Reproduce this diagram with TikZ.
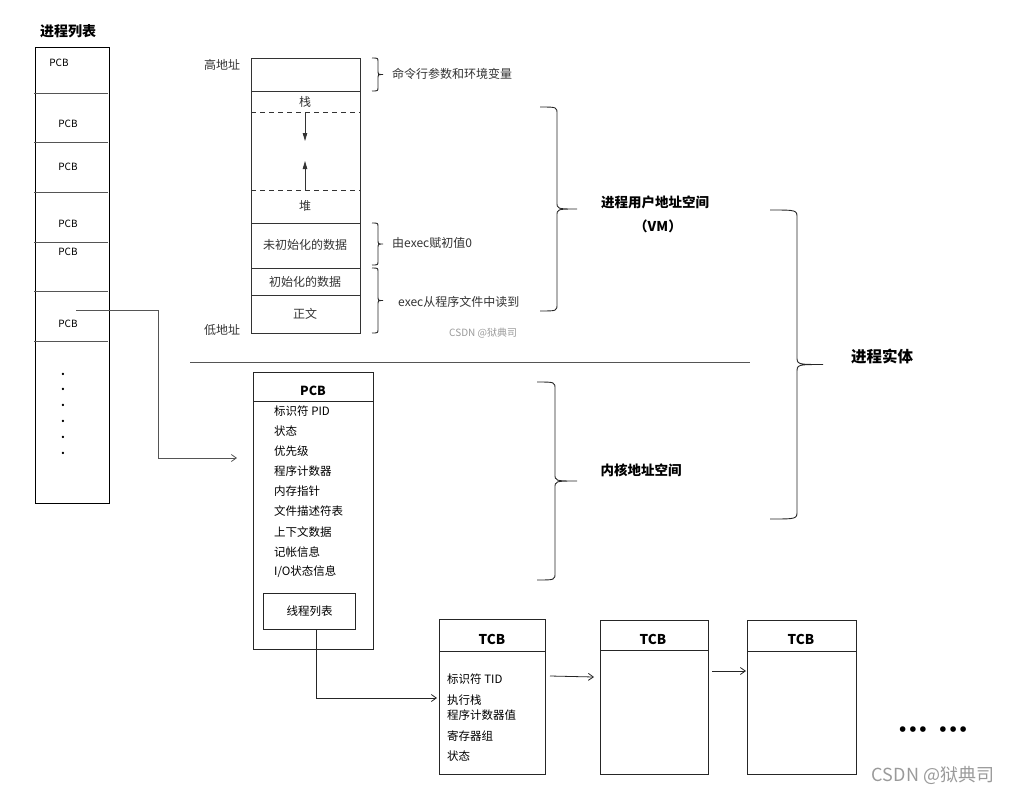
\documentclass[tikz,border=0pt]{standalone}
\usepackage{fontspec}
\setmainfont{Noto Sans CJK SC}
\newfontfamily\dejavu{DejaVu Sans}
\usetikzlibrary{arrows.meta}
\definecolor{memln}{HTML}{333333}
\definecolor{sepln}{HTML}{555555}
\definecolor{wm}{HTML}{9A9A9A}
% brace pointing right: #1 x of ends, #2 x of spine, #3 x of tip, #4 y top, #5 y bottom, #6 radius
\newcommand\mybrc[6]{%
  \pgfmathsetmacro\bym{(#4+#5)/2}%
  \draw[brc] (#1,#4) .. controls (#2,#4) and (#2,#4) .. (#2,#4+#6)
    -- (#2,\bym-#6) .. controls (#2,\bym) and (#2,\bym) .. (#3,\bym)
    .. controls (#2,\bym) and (#2,\bym) .. (#2,\bym+#6)
    -- (#2,#5-#6) .. controls (#2,#5) and (#2,#5) .. (#1,#5);}
\begin{document}
\begin{tikzpicture}[x=1pt,y=-1pt,
  txt/.style={inner sep=0pt},
  small/.style={txt, font=\fontsize{10}{12}\selectfont},
  item/.style={txt, anchor=west, font=\fontsize{11.5}{13}\selectfont},
  ttl/.style={txt, font=\fontsize{13.5}{15}\selectfont\bfseries},
  memtxt/.style={txt, text=memln, font=\fontsize{12}{14}\selectfont},
  box/.style={draw=black!85, line width=1pt, inner sep=0pt, anchor=north west},
  membox/.style={draw=memln, line width=0.9pt, inner sep=0pt, anchor=north west},
  arr/.style={-{Straight Barb[length=5pt,width=7pt]}, line width=0.8pt},
  tri/.style={-{Triangle[length=8pt,width=4.5pt]}, line width=0.8pt, memln},
  brc/.style={line width=0.9pt, black!85},
  mbrc/.style={line width=0.8pt, memln}]
\useasboundingbox (0,0) rectangle (1013,793);

% ---------- process list ----------
\node[ttl, font=\fontsize{14}{16}\selectfont\bfseries] (ltitle) at (68,31) {进程列表};
\node[draw=black, line width=0.9pt, inner sep=0pt, anchor=north west,
      minimum width=74pt, minimum height=456pt] (plist) at (35,47) {};
\foreach \yy in {93,142,192,242,291,341}
  \draw[sepln, line width=1pt] (34,\yy) -- (108,\yy);
\node[small] (p1) at (59,63) {PCB};
\node[small] (p2) at (68,124) {PCB};
\node[small] (p3) at (68,167) {PCB};
\node[small] (p4) at (68,224) {PCB};
\node[small] (p5) at (68,252) {PCB};
\node[small] (p6) at (68,324) {PCB};
\foreach \yy in {377,392,408,424,440,456}
  \node[txt, font=\fontsize{11}{12}\selectfont\bfseries] at (63,\yy-3) {.};

% connector list -> PCB
\coordinate (ls) at (76,310);
\coordinate (le) at (237,458);
\draw[arr, sepln] (ls) -- ++(82,0) |- (le);

% ---------- memory layout ----------
\node[membox, minimum width=109pt, minimum height=275pt] (mem) at (251,58) {};
\draw[memln, line width=0.9pt] (251,91) -- (360,91);
\draw[memln, line width=0.9pt, dash pattern=on 5pt off 4pt] (251,112) -- (360,112);
\draw[memln, line width=0.9pt, dash pattern=on 5pt off 4pt] (251,190) -- (360,190);
\draw[memln, line width=0.9pt] (251,223) -- (360,223);
\draw[memln, line width=0.9pt] (251,268) -- (360,268);
\draw[memln, line width=0.9pt] (251,295) -- (360,295);
\coordinate (sa) at (305,113);
\coordinate (sb) at (305,141);
\coordinate (ha) at (305,190);
\coordinate (hb) at (305,161);
\draw[tri] (sa) -- (sb);
\draw[tri] (ha) -- (hb);

\node[memtxt] (hi) at (222,65) {高地址};
\node[memtxt] (lo) at (222,330) {低地址};
\node[memtxt] (stk) at (305,102) {栈};
\node[memtxt] (heap) at (305,206) {堆};
\node[memtxt] (bss) at (305,245) {未初始化的数据};
\node[memtxt] (data) at (305,282) {初始化的数据};
\node[memtxt] (text) at (305,314) {正文};

\mybrc{372}{378}{383}{58}{91}{4}
\mybrc{372}{378}{383}{223}{265}{4}
\mybrc{372}{378}{383}{268}{333}{4}
\node[memtxt, anchor=west] (cmd) at (392,74) {命令行参数和环境变量};
\node[memtxt, anchor=west] (bz) at (392,243) {由exec赋初值0};
\node[memtxt, anchor=west] (rd) at (398,302) {exec从程序文件中读到};
\node[txt, anchor=west, text=wm, font=\fontsize{10}{12}\selectfont] (wm1) at (449,333) {CSDN @狱典司};

% ---------- big braces and titles ----------
\mybrc{540}{557}{577}{107}{311}{7}
\node[ttl] (vmt) at (655,202) {进程用户地址空间};
\node[ttl] (vm) at (658,226) {（VM）};

\draw[sepln, line width=1pt] (190,362) -- (750,362);

\mybrc{770}{797}{823}{210}{519}{8}
\node[ttl, font=\fontsize{15.5}{17}\selectfont\bfseries] (ent) at (882,357) {进程实体};

\mybrc{537}{555}{577}{382}{580}{7}
\node[ttl] (kern) at (641,470) {内核地址空间};

% ---------- PCB ----------
\node[box, minimum width=120pt, minimum height=277pt] (pcb) at (253,372) {};
\draw[black!85, line width=1pt] ([yshift=-29pt]pcb.north west) -- ([yshift=-29pt]pcb.north east);
\node[ttl, font=\fontsize{12.5}{14}\selectfont\bfseries] (pcbt) at (313,391) {PCB};
\node[item] at (274,411) {标识符 PID};
\node[item] at (274,431) {状态};
\node[item] at (274,451) {优先级};
\node[item] at (274,471) {程序计数器};
\node[item] at (274,491) {内存指针};
\node[item] at (274,511) {文件描述符表};
\node[item] at (274,532) {上下文数据};
\node[item] at (274,552) {记帐信息};
\node[item] at (274,572) {I/O状态信息};
\node[box, minimum width=92pt, minimum height=36pt, label={[txt, font=\fontsize{11.5}{13}\selectfont]center:线程列表}] (tl) at (263,593) {};

% ---------- TCBs ----------
\node[box, minimum width=106pt, minimum height=155pt] (tcb1) at (439,619) {};
\draw[black!85, line width=1pt] ([yshift=-32pt]tcb1.north west) -- ([yshift=-32pt]tcb1.north east);
\node[ttl] at (492,639) {TCB};
\node[item] at (447,679) {标识符 TID};
\node[item] at (447,700) {执行栈};
\node[item] at (447,715) {程序计数器值};
\node[item] at (447,736) {寄存器组};
\node[item] at (447,756) {状态};

\node[box, minimum width=108pt, minimum height=154pt] (tcb2) at (600,620) {};
\draw[black!85, line width=1pt] ([yshift=-30pt]tcb2.north west) -- ([yshift=-30pt]tcb2.north east);
\node[ttl] at (653,639) {TCB};

\node[box, minimum width=109pt, minimum height=154pt] (tcb3) at (747,620) {};
\draw[black!85, line width=1pt] ([yshift=-31pt]tcb3.north west) -- ([yshift=-31pt]tcb3.north east);
\node[ttl] at (801,639) {TCB};

\coordinate (tin) at (437,698);
\draw[arr, black!85] ([xshift=6.5pt]tl.south) |- (tin);
\coordinate (a1s) at (550,676);
\coordinate (a1e) at (594,677);
\draw[arr, black!85] (a1s) -- (a1e);
\coordinate (a2s) at (712,671);
\coordinate (a2e) at (746,671);
\draw[arr, black!85] (a2s) -- (a2e);

\node[txt, font=\dejavu\bfseries\fontsize{16}{18}\selectfont] (dots) at (933,731) {•••\hspace{4pt} •••};
\node[txt, text=wm, font=\fontsize{18}{20}\selectfont] (wm2) at (933,775) {CSDN @狱典司};
\end{tikzpicture}
\end{document}
